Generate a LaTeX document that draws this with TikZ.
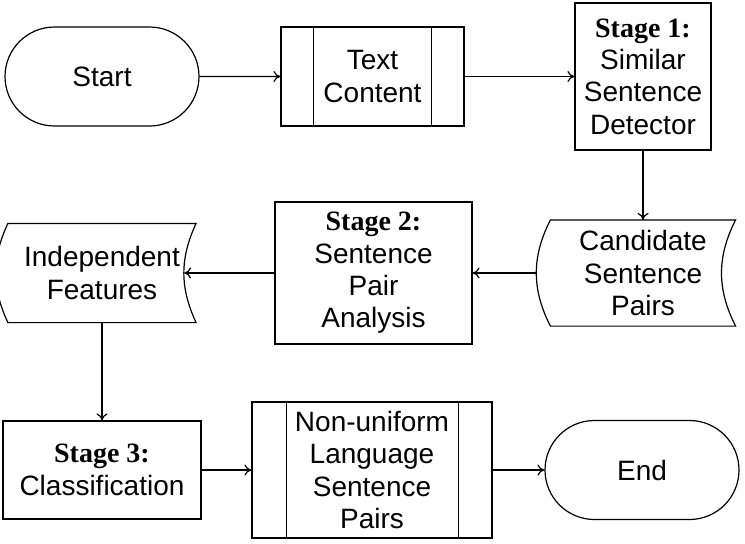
\documentclass[tikz,border=0pt]{standalone}
\usepackage{fontspec}
\setmainfont{Liberation Sans}
\newfontfamily\stagefont{Liberation Serif}
\usetikzlibrary{positioning,shapes.misc,arrows,arrows.meta}
\tikzset{font=\fontsize{14}{16.2}\selectfont}
\newcommand{\stg}[1]{{\stagefont\bfseries Stage #1:}}

\begin{document}
\begin{tikzpicture}[x=0.5pt, y=-0.5pt, line width=0.6pt, >={To[length=3.5pt, width=5.5pt]}]
	\useasboundingbox (0,0) rectangle (745,543);
	\begin{scope}
		\tikzstyle{every node}=[align=center, inner sep=1pt]
		\tikzstyle{term}=[draw, rounded rectangle, minimum width=99pt, minimum height=49.5pt]
		\tikzstyle{proc}=[draw, rectangle]
		\tikzstyle{store}=[rectangle]
		\node[term] (start) at (102, 76.5) {Start};
		\node[proc, minimum width=91.5pt, minimum height=49.5pt] (txt) at (372.5, 76.5) {Text\\Content};
		\node[proc, minimum width=68pt, minimum height=73.5pt] (s1) at (643, 76.5) {\stg{1}\\Similar\\Sentence\\Detector};
		\node[store, minimum width=92pt, minimum height=52.5pt] (cand) at (643, 273) {Candidate\\Sentence\\Pairs};
		\node[proc, minimum width=98.5pt, minimum height=71pt] (s2) at (373.5, 273) {\stg{2}\\Sentence\\Pair\\Analysis};
		\node[store, minimum width=93.5pt, minimum height=49pt] (indep) at (102, 273) {Independent\\Features};
		\node[proc, minimum width=99pt, minimum height=49pt] (s3) at (102, 470) {\stg{3}\\Classification};
		\node[proc, minimum width=120pt, minimum height=68pt] (nonu) at (372, 470) {Non-uniform\\Language\\Sentence\\Pairs};
		\node[term] (end) at (642, 470) {End};

		% side bars of the process boxes
		\draw ([xshift=16.5pt]txt.north west) -- ([xshift=16.5pt]txt.south west);
		\draw ([xshift=-16.5pt]txt.north east) -- ([xshift=-16.5pt]txt.south east);
		\draw ([xshift=17.5pt]nonu.north west) -- ([xshift=17.5pt]nonu.south west);
		\draw ([xshift=-17pt]nonu.north east) -- ([xshift=-17pt]nonu.south east);

		% stored data outlines
		\draw (cand.north west) to[bend right=27] (cand.south west) -- (cand.south east)
			to[bend left=27] (cand.north east) -- cycle;
		\draw (indep.north west) to[bend right=25] (indep.south west) -- (indep.south east)
			to[bend left=25] (indep.north east) -- cycle;

		\draw[->] (start) -- (txt);
		\draw[->] (txt) -- (s1);
		\draw[->] (s1) -- (cand);
		\draw[->] ([xshift=-7pt]cand.west) -- (s2);
		\draw[->] (s2) -- ([xshift=-6pt]indep.east);
		\draw[->] (indep) -- (s3);
		\draw[->] (s3) -- (nonu);
		\draw[->] (nonu) -- (end);
	\end{scope}
\end{tikzpicture}
\end{document}
